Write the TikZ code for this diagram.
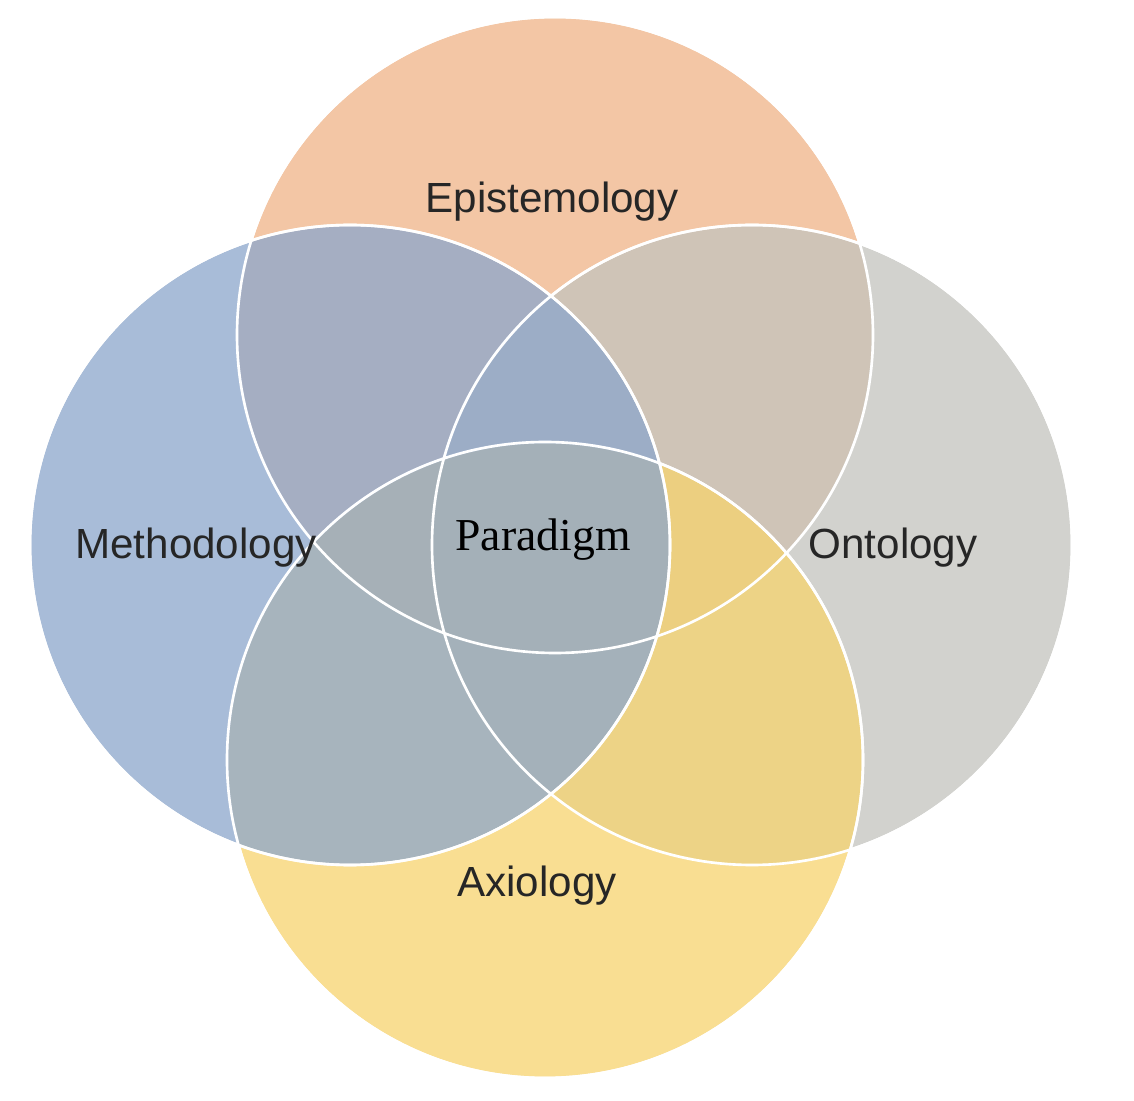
\documentclass[tikz,border=0pt]{standalone}
\usepackage{fontspec}
\setmainfont{Liberation Sans}
\newfontfamily\serifp{Liberation Serif}
\begin{document}
\begin{tikzpicture}[x=0.02cm,y=-0.02cm,
  circ/.style={draw=white,line width=1.5pt,fill opacity=0.75},
  lab/.style={font=\fontsize{24}{28}\selectfont,text=black!85}]
\useasboundingbox[fill=white] (0,0) rectangle (1134,1101);
\fill[circ,fill={rgb,255:red,239;green,179;blue,135}] (555,335) circle (318);
\fill[circ,fill={rgb,255:red,196;green,196;blue,190}] (752,545) circle (320);
\fill[circ,fill={rgb,255:red,247;green,212;blue,110}] (545,760) circle (318);
\fill[circ,fill={rgb,255:red,140;green,166;blue,204}] (350,545) circle (320);
\draw[white,line width=1.5pt] (555,335) circle (318) (752,545) circle (320) (545,760) circle (318) (350,545) circle (320);
\node[lab] (e) at (552,202) {Epistemology};
\node[lab] (m) at (196,548) {Methodology};
\node[lab] (o) at (893,548) {Ontology};
\node[lab] (a) at (537,886) {Axiology};
\node[font=\serifp\fontsize{26}{30}\selectfont] (p) at (543,540) {Paradigm};
\end{tikzpicture}
\end{document}
